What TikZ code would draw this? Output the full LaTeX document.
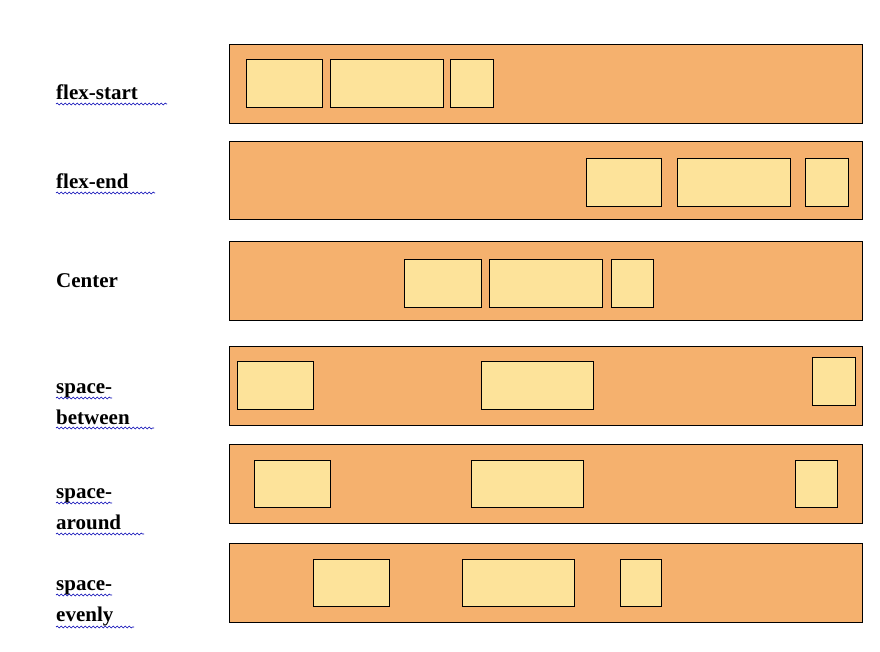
\documentclass[tikz,border=0pt]{standalone}
\usepackage{fontspec}
\setmainfont{Liberation Serif}
\usetikzlibrary{decorations.pathmorphing}
\definecolor{outerc}{HTML}{F5B16E}
\definecolor{innerc}{HTML}{FDE39A}
\tikzset{
 outerbox/.style={draw=black,fill=outerc,line width=0.8pt},
 innerbox/.style={draw=black,fill=innerc,line width=0.8pt},
 lbl/.style={anchor=base west,inner sep=0pt,font=\fontsize{21}{24}\selectfont\bfseries},
 squig/.style={draw=blue!70!black,line width=0.6pt,decorate,decoration={snake,amplitude=0.9pt,segment length=4pt}}
}
\begin{document}
\begin{tikzpicture}[x=1pt,y=-1pt]
\useasboundingbox (0,0) rectangle (880,651);
\newcommand{\ob}[3]{\draw[outerbox] (229,#2) rectangle (862,#3) node[pos=0,opacity=0] (#1) {};}
\newcommand{\ib}[5]{\draw[innerbox] (#2,#4) rectangle (#3,#5) node[pos=0,opacity=0] (#1) {};}
\ob{r1}{44}{123}
\ib{a1}{246}{322}{59}{107}\ib{a2}{330}{443}{59}{107}\ib{a3}{450}{493}{59}{107}
\ob{r2}{141}{219}
\ib{b1}{586}{661}{158}{206}\ib{b2}{677}{790}{158}{206}\ib{b3}{805}{848}{158}{206}
\ob{r3}{241}{320}
\ib{c1}{404}{481}{259}{307}\ib{c2}{489}{602}{259}{307}\ib{c3}{611}{653}{259}{307}
\ob{r4}{346}{425}
\ib{d1}{237}{313}{361}{409}\ib{d2}{481}{593}{361}{409}\ib{d3}{812}{855}{357}{405}
\ob{r5}{444}{523}
\ib{e1}{254}{330}{460}{507}\ib{e2}{471}{583}{460}{507}\ib{e3}{795}{837}{460}{507}
\ob{r6}{543}{622}
\ib{f1}{313}{389}{559}{606}\ib{f2}{462}{574}{559}{606}\ib{f3}{620}{661}{559}{606}
\node[lbl] (l1) at (56,99) {flex-start};
\node[lbl] (l2) at (56,188) {flex-end};
\node[lbl] (l3) at (56,287) {Center};
\node[lbl] (l4a) at (56,393) {space-};
\node[lbl] (l4b) at (56,424) {between};
\node[lbl] (l5a) at (56,498) {space-};
\node[lbl] (l5b) at (56,529) {around};
\node[lbl] (l6a) at (56,590) {space-};
\node[lbl] (l6b) at (56,621) {evenly};
\draw[squig] (56,104) -- (167,104);
\draw[squig] (56,193) -- (155,193);
\draw[squig] (56,398) -- (112,398);
\draw[squig] (56,428) -- (154,428);
\draw[squig] (56,503) -- (112,503);
\draw[squig] (56,534) -- (144,534);
\draw[squig] (56,595) -- (112,595);
\draw[squig] (56,627) -- (134,627);
\end{tikzpicture}
\end{document}
